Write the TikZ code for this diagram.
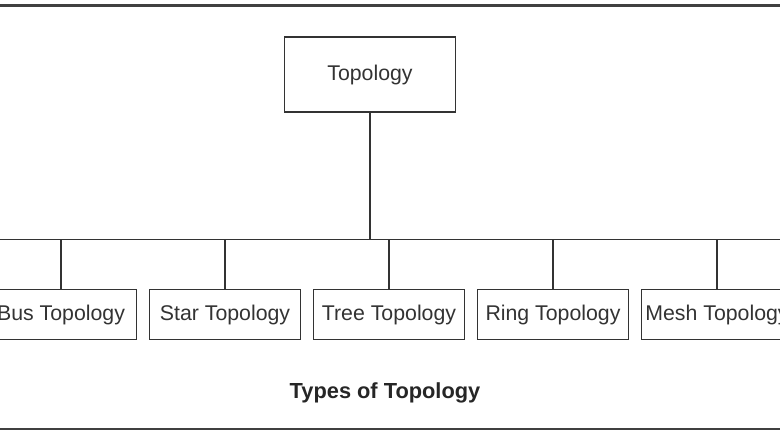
\documentclass[tikz,border=0pt]{standalone}
\usepackage{fontspec}
\setmainfont{Liberation Sans}
\begin{document}
\begin{tikzpicture}[x=1pt,y=-1pt,
  line/.style={draw=black!80,line width=1.4pt},
  box/.style={draw=black!80,line width=1.4pt,fill=white,minimum height=50.5pt,minimum width=151pt,inner sep=0pt,font=\fontsize{21.3}{25}\selectfont,text=black!80},
  frame/.style={draw=black!75,line width=2.5pt}]
\useasboundingbox (0,0) rectangle (780,436);
\fill[white] (0,0) rectangle (780,436);
\coordinate (tl) at (-5,5.5);
\coordinate (tr) at (785,5.5);
\coordinate (bl) at (-5,429);
\coordinate (br) at (785,429);
\draw[frame] (tl) -- (tr);
\draw[frame,line width=2pt] (bl) -- (br);
\node[box,minimum width=171pt,minimum height=75pt] (top) at (370,74.5) {Topology};
\coordinate (busL) at (-5,239.3);
\coordinate (busR) at (785,239.3);
\draw[line] (busL) -- (busR);
\draw[line] (top.south) -- (top.south |- busL);
\foreach \n/\cx/\t in {bus/61/Bus Topology,star/225/Star Topology,tree/389/Tree Topology,ring/553/Ring Topology,mesh/717/Mesh Topology}{
  \node[box] (\n) at (\cx,314.5) {\t};
  \draw[line] (\n.north) -- (\n.north |- busL);
}
\node[font=\bfseries\fontsize{21.8}{25}\selectfont,text=black!85,inner sep=0pt] (cap) at (385,393) {Types of Topology};
\end{tikzpicture}
\end{document}
